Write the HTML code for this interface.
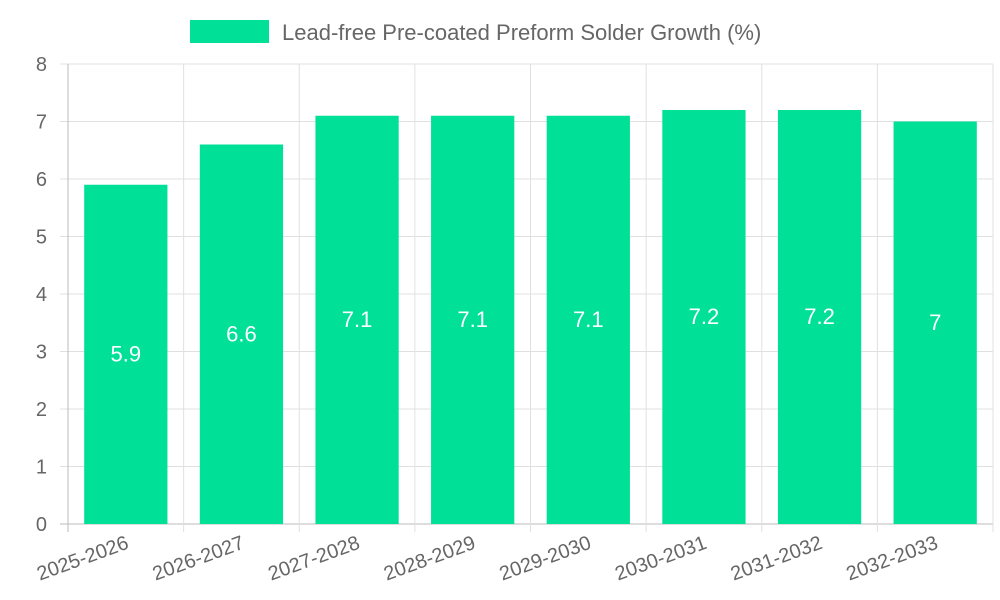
<!DOCTYPE html>
<html><head><meta charset="utf-8"><style>
body{margin:0;background:#fff;}
svg{display:block;font-family:"Liberation Sans",sans-serif;}
</style></head><body>
<svg id="chart" width="1000" height="600">
<rect x="190" y="20" width="79" height="23" fill="#00e096"/>
<text x="282" y="40" font-size="22" fill="#666">Lead-free Pre-coated Preform Solder Growth (%)</text>
<g id="grid"></g><g id="bars"></g><g id="labels"></g>
</svg>
<script>
const categories=["2025-2026","2026-2027","2027-2028","2028-2029","2029-2030","2030-2031","2031-2032","2032-2033"];
const values=[5.9,6.6,7.1,7.1,7.1,7.2,7.2,7];
const yTicks=[0,1,2,3,4,5,6,7,8];
const NS="http://www.w3.org/2000/svg";
const x0=68,x1=993,y0=524,y1=64,yMax=8;
const bw=(x1-x0)/categories.length;
const Y=v=>y0-(v/yMax)*(y0-y1);
const X=i=>x0+bw*i;
function mk(t,a,p){const e=document.createElementNS(NS,t);for(const k in a)e.setAttribute(k,a[k]);p.appendChild(e);return e;}
const g=document.getElementById('grid'),b=document.getElementById('bars'),l=document.getElementById('labels');
yTicks.forEach(t=>{
 const ln=mk('line',{x1:60,x2:x1,y1:Y(t),y2:Y(t),stroke:t===0?'#bbb':'#e0e0e0','stroke-width':1},g);
 
 
 const tx=mk('text',{x:47,y:Y(t)+7,'font-size':20,fill:'#666','text-anchor':'end'},l);
 tx.textContent=t;
 
 
});
for(let i=0;i<=categories.length;i++){
 const ln=mk('line',{x1:X(i),x2:X(i),y1:y1,y2:y0+8,stroke:i===0?'#bbb':'#e0e0e0','stroke-width':1},g);
 
 
}
categories.forEach((c,i)=>{
 const cx=X(i)+bw/2,w=bw*0.72;
 const r=mk('rect',{x:cx-w/2,y:Y(values[i]),width:w,height:y0-Y(values[i]),fill:'#00e096'},b);
 
 
 const vt=mk('text',{x:cx,y:(Y(values[i])+y0)/2+7,'font-size':22,fill:'#fff','text-anchor':'middle'},l);
 vt.textContent=values[i];
 
 
 const xt=mk('text',{x:cx+4,y:548,'font-size':20,fill:'#666','text-anchor':'end',transform:`rotate(-20 ${cx+4} 548)`},l);
 xt.textContent=c;
 
 
});
</script>
</body></html>
